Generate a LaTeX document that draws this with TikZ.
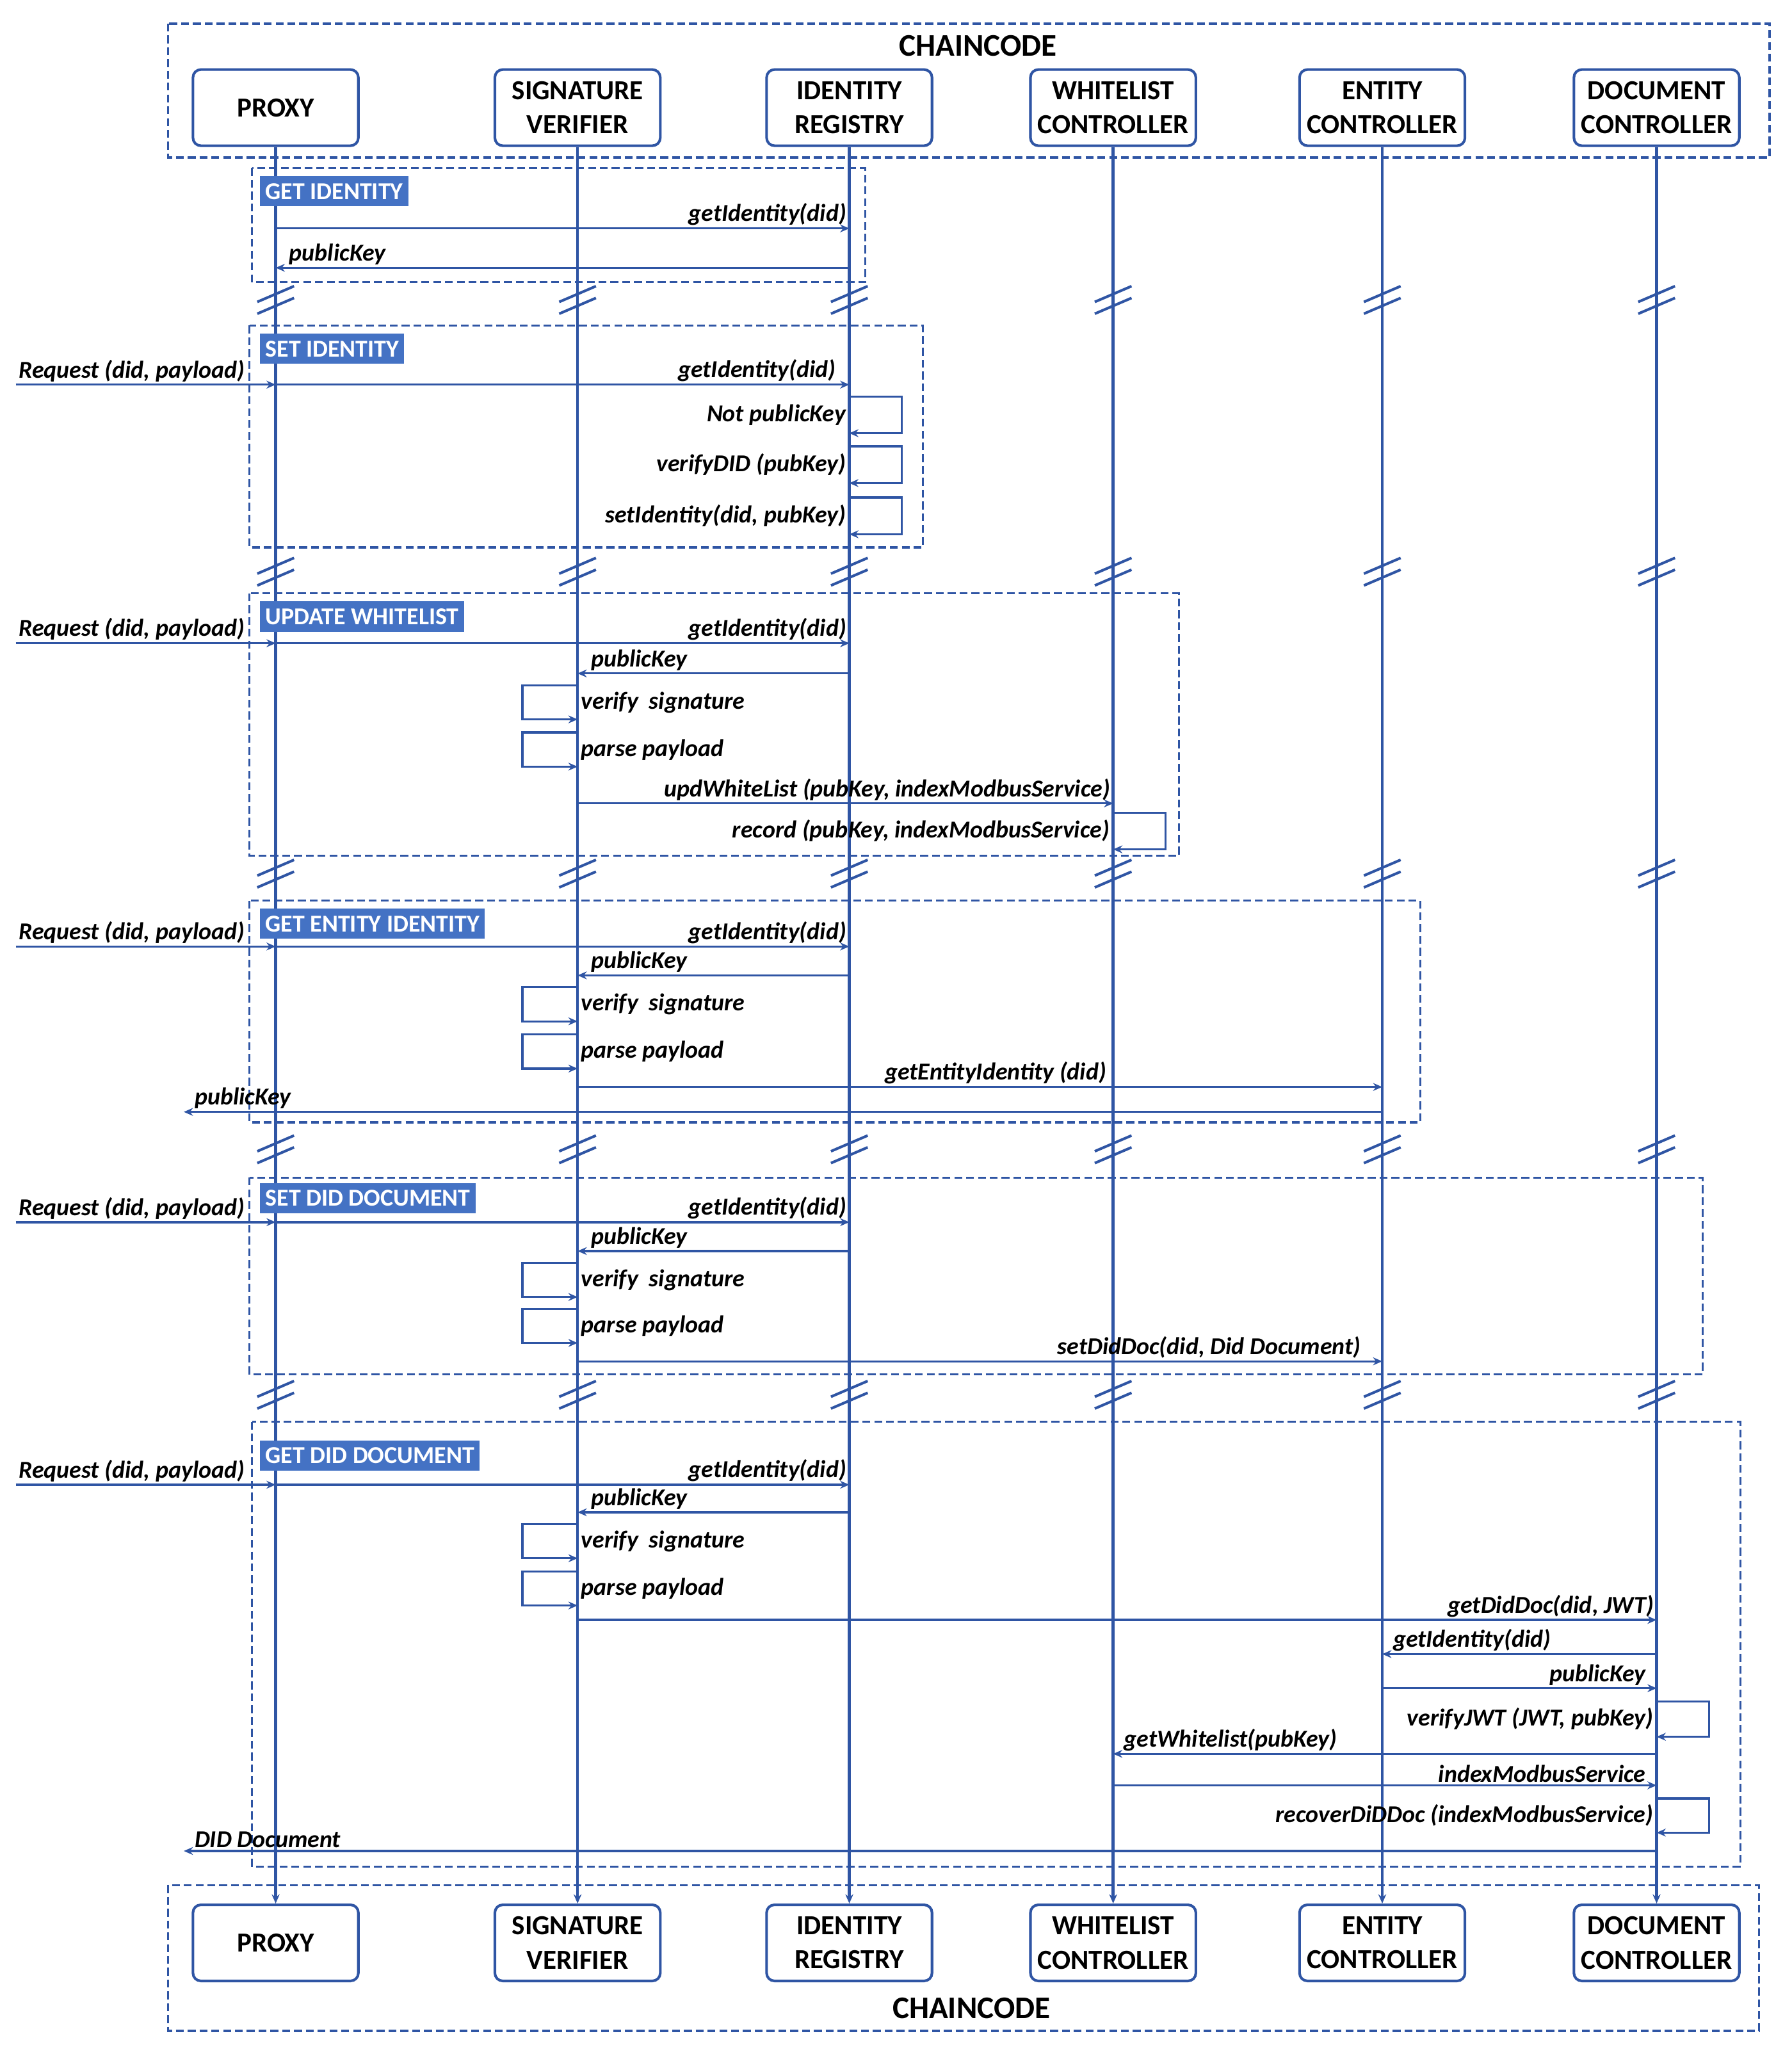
\documentclass[tikz,border=0pt]{standalone}
\usepackage{fontspec}
\setmainfont{Carlito}
\usetikzlibrary{arrows.meta}
\definecolor{lineblue}{HTML}{2F55A4}
\definecolor{tagblue}{HTML}{4472C4}
\tikzset{
  actor/.style={draw=lineblue, line width=2pt, rounded corners=6pt, minimum width=126pt,
    minimum height=58pt, align=center, font=\fontsize{21}{26}\selectfont\bfseries},
  life/.style={lineblue, line width=2.2pt, -{Stealth[length=7pt,width=6pt]}},
  msg/.style={lineblue, line width=1.6pt, -{Stealth[length=7pt,width=6pt]}},
  lbl/.style={text=black, font=\fontsize{18.5}{21}\selectfont\bfseries\itshape, inner sep=1.5pt},
  frame/.style={lineblue, line width=1.6pt, dash pattern=on 6pt off 3pt},
  tag/.style={fill=tagblue, text=white, anchor=north west, inner sep=4pt, minimum height=23pt,
    font=\fontsize{18.5}{20}\selectfont\bfseries},
  brk/.style={lineblue, line width=2pt}
}
% message from lifeline #1 to lifeline #2 at height #3
\newcommand\msg[5]{\draw[msg] (#1 |- 0,#3) -- (#2 |- 0,#3) node[lbl,#5] {#4};}
% self loop on the right / left of a lifeline
\newcommand\loopR[4]{\draw[msg] (#1 |- 0,#2) -- ++(40,0) |- (#1 |- 0,#3);
  \node[lbl, anchor=east] at ([xshift=-1pt]#1 |- 0,{(#2+#3)/2}) {#4};}
\newcommand\loopL[4]{\draw[msg] (#1 |- 0,#2) -- ++(-42,0) |- (#1 |- 0,#3);
  \node[lbl, anchor=west] at ([xshift=1pt]#1 |- 0,{(#2+#3)/2}) {#4};}
\newcommand\brkmark[2]{\draw[brk] ([shift={(-14,2)}]#1 |- 0,#2) -- ++(28,-12);
  \draw[brk] ([shift={(-14,11)}]#1 |- 0,#2) -- ++(28,-12);}
\begin{document}
\begin{tikzpicture}[x=1pt, y=-1pt]
\useasboundingbox (0,0) rectangle (1365,1570);

% chaincode frames
\draw[frame] (128,18) rectangle (1348,120);
\node[font=\fontsize{24}{28}\selectfont\bfseries] at (745,35) {CHAINCODE};
\draw[frame] (128,1436) rectangle (1340,1547);
\node[font=\fontsize{24}{28}\selectfont\bfseries] at (740,1530) {CHAINCODE};

% actors
\foreach \n/\t/\x in {px/PROXY/210, sv/SIGNATURE\\VERIFIER/440, ir/IDENTITY\\REGISTRY/647,
    wc/WHITELIST\\CONTROLLER/848, ec/ENTITY\\CONTROLLER/1053, dc/DOCUMENT\\CONTROLLER/1262}
{
  \node[actor] (\n T) at (\x,82) {\t};
  \node[actor] (\n B) at (\x,1480) {\t};
  \draw[life] (\n T) -- (\n B);
}
\coordinate (ext) at (12,0);
\coordinate (out) at (140,0);

% breaks
\foreach \y in {228,435,665,875,1062}{
  \foreach \n in {pxT,svT,irT,wcT,ecT,dcT}{\brkmark{\n}{\y}}
}

% GET IDENTITY
\draw[frame] (192,128) rectangle (659,215);
\node[tag] at (198,134) {GET IDENTITY};
\msg{pxT}{irT}{174}{getIdentity(did)}{pos=1,above left}
\msg{irT}{pxT}{204}{publicKey}{pos=1,above right,xshift=8pt}

% SET IDENTITY
\draw[frame] (190,248) rectangle (703,417);
\node[tag] at (198,254) {SET IDENTITY};
\msg{ext}{pxT}{293}{Request (did, payload)}{pos=0,above right}
\msg{pxT}{irT}{293}{getIdentity(did)}{pos=1,above left,xshift=-8pt}
\loopR{irT}{302}{330}{Not publicKey}
\loopR{irT}{340}{368}{verifyDID (pubKey)}
\loopR{irT}{379}{407}{setIdentity(did, pubKey)}

% UPDATE WHITELIST
\draw[frame] (190,452) rectangle (898,652);
\node[tag] at (198,458) {UPDATE WHITELIST};
\msg{ext}{pxT}{490}{Request (did, payload)}{pos=0,above right}
\msg{pxT}{irT}{490}{getIdentity(did)}{pos=1,above left}
\msg{irT}{svT}{513}{publicKey}{pos=1,above right,xshift=8pt}
\loopL{svT}{522}{548}{verify\ \ signature}
\loopL{svT}{558}{584}{parse payload}
\msg{svT}{wcT}{612}{updWhiteList (pubKey, indexModbusService)}{pos=1,above left}
\loopR{wcT}{619}{647}{record (pubKey, indexModbusService)}

% GET ENTITY IDENTITY
\draw[frame] (190,686) rectangle (1082,855);
\node[tag] at (198,692) {GET ENTITY IDENTITY};
\msg{ext}{pxT}{721}{Request (did, payload)}{pos=0,above right}
\msg{pxT}{irT}{721}{getIdentity(did)}{pos=1,above left}
\msg{irT}{svT}{743}{publicKey}{pos=1,above right,xshift=8pt}
\loopL{svT}{752}{778}{verify\ \ signature}
\loopL{svT}{788}{814}{parse payload}
\msg{svT}{ecT}{828}{getEntityIdentity (did)}{midway,above,xshift=12pt}
\msg{ecT}{out}{847}{publicKey}{pos=1,above right,xshift=6pt}

% SET DID DOCUMENT
\draw[frame] (190,897) rectangle (1297,1047);
\node[tag] at (198,901) {SET DID DOCUMENT};
\msg{ext}{pxT}{931}{Request (did, payload)}{pos=0,above right}
\msg{pxT}{irT}{931}{getIdentity(did)}{pos=1,above left}
\msg{irT}{svT}{953}{publicKey}{pos=1,above right,xshift=8pt}
\loopL{svT}{962}{988}{verify\ \ signature}
\loopL{svT}{997}{1023}{parse payload}
\msg{svT}{ecT}{1037}{setDidDoc(did, Did Document)}{pos=1,above left,xshift=-14pt}

% GET DID DOCUMENT
\draw[frame] (192,1083) rectangle (1326,1422);
\node[tag] at (198,1097) {GET DID DOCUMENT};
\msg{ext}{pxT}{1131}{Request (did, payload)}{pos=0,above right}
\msg{pxT}{irT}{1131}{getIdentity(did)}{pos=1,above left}
\msg{irT}{svT}{1152}{publicKey}{pos=1,above right,xshift=8pt}
\loopL{svT}{1161}{1187}{verify\ \ signature}
\loopL{svT}{1197}{1223}{parse payload}
\msg{svT}{dcT}{1234}{getDidDoc(did, JWT)}{pos=1,above left}
\msg{dcT}{ecT}{1260}{getIdentity(did)}{pos=1,above right,xshift=6pt}
\msg{ecT}{dcT}{1286}{publicKey}{pos=1,above left,xshift=-6pt}
\loopR{dcT}{1296}{1323}{verifyJWT (JWT, pubKey)}
\msg{dcT}{wcT}{1336}{getWhitelist(pubKey)}{pos=1,above right,xshift=6pt}
\msg{wcT}{dcT}{1360}{indexModbusService}{pos=1,above left,xshift=-6pt}
\loopR{dcT}{1370}{1396}{recoverDiDDoc (indexModbusService)}
\msg{dcT}{out}{1410}{DID Document}{pos=1,above right,xshift=6pt}
\end{tikzpicture}
\end{document}
